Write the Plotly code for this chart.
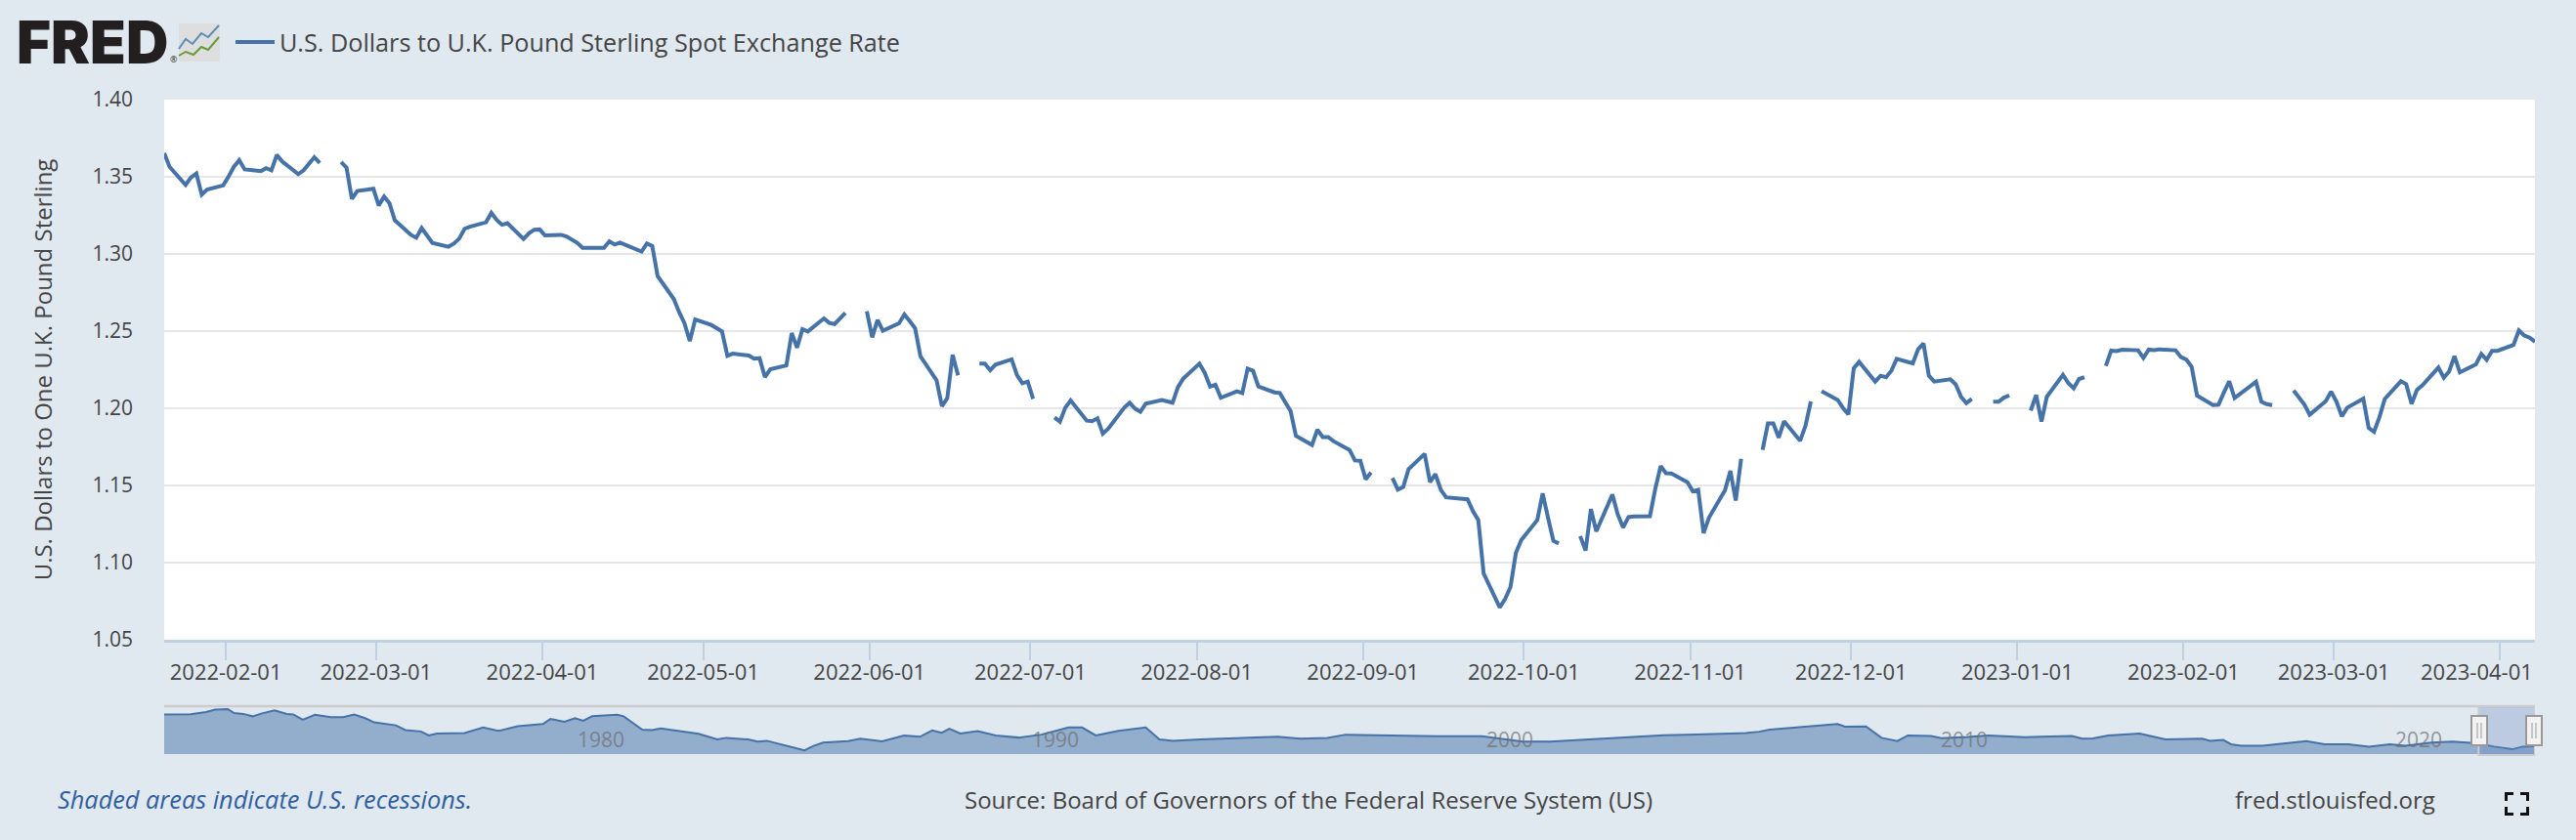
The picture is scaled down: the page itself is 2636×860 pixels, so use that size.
import pandas as pd
import plotly.graph_objects as go

# daily spot rate, one list per month, business days only (None = Fed holiday)
rate_2022_01 = [1.3653, 1.3565, 1.3448, 1.3496, 1.3521, 1.3385, 1.3418, 1.3444]
rate_2022_02 = [1.3502, 1.3565, 1.3607, 1.3548, 1.3536, 1.3556, 1.3542, 1.3642, 1.3600, 1.3517,
                1.3542, 1.3584, 1.3627, 1.3590, None, 1.3596, 1.3559, 1.3356, 1.3408, 1.3423]
rate_2022_03 = [1.3314, 1.3372, 1.3329, 1.3218, 1.3124, 1.3105, 1.3168, 1.3120, 1.3072, 1.3047,
                1.3067, 1.3099, 1.3163, 1.3176, 1.3205, 1.3266, 1.3220, 1.3189, 1.3199, 1.3097,
                1.3134, 1.3157, 1.3159]
rate_2022_04 = [1.3120, 1.3124, 1.3114, 1.3091, 1.3072, 1.3040, 1.3040, 1.3040, 1.3082, 1.3061,
                1.3074, 1.3025, 1.3015, 1.3068, 1.3051, 1.2857, 1.2709, 1.2624, 1.2551, 1.2435,
                1.2576]
rate_2022_05 = [1.2540, 1.2519, 1.2498, 1.2340, 1.2354, 1.2342, 1.2321, 1.2325, 1.2202, 1.2253,
                1.2278, 1.2487, 1.2392, 1.2513, 1.2498, 1.2582, 1.2553, 1.2546, 1.2586, 1.2618,
                None, 1.2629]
rate_2022_06 = [1.2460, 1.2572, 1.2502, 1.2551, 1.2608, 1.2565, 1.2519, 1.2337, 1.2181, 1.2013,
                1.2065, 1.2346, 1.2213, None, 1.2289, 1.2289, 1.2247, 1.2283, 1.2317, 1.2215,
                1.2162, 1.2173]
rate_2022_07 = [1.2061, None, 1.1941, 1.1913, 1.2004, 1.2051, 1.1920, 1.1916, 1.1935, 1.1835,
                1.1867, 1.2004, 1.2036, 1.1998, 1.1977, 1.2030, 1.2053, 1.2046, 1.2036, 1.2137,
                1.2192]
rate_2022_08 = [1.2289, 1.2230, 1.2141, 1.2152, 1.2068, 1.2110, 1.2099, 1.2257, 1.2243, 1.2141,
                1.2103, 1.2099, 1.2040, 1.1983, 1.1821, 1.1762, 1.1861, 1.1814, 1.1814, 1.1787,
                1.1730, 1.1662, 1.1660]
rate_2022_09 = [1.1540, 1.1584, None, 1.1548, 1.1473, 1.1490, 1.1605, 1.1705, 1.1521, 1.1573,
                1.1473, 1.1423, 1.1410, 1.1410, 1.1333, 1.1276, 1.0929, 1.0710, 1.0764, 1.0842,
                1.1061, 1.1145]
rate_2022_10 = [1.1276, 1.1448, 1.1291, 1.1141, 1.1124, None, 1.1172, 1.1078, 1.1347, 1.1203,
                1.1441, 1.1312, 1.1228, 1.1295, 1.1299, 1.1301, 1.1479, 1.1625, 1.1579, 1.1577,
                1.1521]
rate_2022_11 = [1.1462, 1.1471, 1.1191, 1.1291, 1.1469, 1.1594, 1.1402, 1.1673, None, 1.1730,
                1.1902, 1.1902, 1.1810, 1.1916, 1.1789, 1.1887, 1.2044, None, 1.2111, 1.2054,
                1.2002, 1.1960]
rate_2022_12 = [1.2259, 1.2301, 1.2173, 1.2211, 1.2201, 1.2242, 1.2320, 1.2291, 1.2382, 1.2420,
                1.2211, 1.2173, 1.2188, 1.2155, 1.2075, 1.2033, 1.2061, None, 1.2042, 1.2042,
                1.2069, 1.2084]
rate_2023_01 = [None, 1.1985, 1.2086, 1.1914, 1.2075, 1.2217, 1.2163, 1.2130, 1.2190, 1.2201,
                None, 1.2274, 1.2374, 1.2370, 1.2380, 1.2376, 1.2326, 1.2380, 1.2376, 1.2382,
                1.2376, 1.2331]
rate_2023_02 = [1.2316, 1.2268, 1.2083, 1.2021, 1.2023, 1.2102, 1.2175, 1.2067, 1.2144, 1.2171,
                1.2042, 1.2027, 1.2021, None, 1.2116, 1.2073, 1.2025, 1.1958, 1.2046, 1.2108]
rate_2023_03 = [1.2042, 1.1948, 1.2004, 1.2062, 1.1873, 1.1848, 1.1942, 1.2060, 1.2175, 1.2156,
                1.2029, 1.2119, 1.2148, 1.2264, 1.2198, 1.2239, 1.2337, 1.2233, 1.2285, 1.2352,
                1.2314, 1.2372, 1.2372]
rate_2023_04 = [1.2410, 1.2505, 1.2472, 1.2458, 1.2431]

rates = (rate_2022_01 + rate_2022_02 + rate_2022_03 + rate_2022_04 + rate_2022_05 + rate_2022_06
         + rate_2022_07 + rate_2022_08 + rate_2022_09 + rate_2022_10 + rate_2022_11 + rate_2022_12
         + rate_2023_01 + rate_2023_02 + rate_2023_03 + rate_2023_04)
# FRED plots the observations half a day right of the tick marks
dates = pd.bdate_range("2022-01-20", "2023-04-07") + pd.Timedelta(hours=12)

month_ticks = ["2022-02-01", "2022-03-01", "2022-04-01", "2022-05-01", "2022-06-01", "2022-07-01",
               "2022-08-01", "2022-09-01", "2022-10-01", "2022-11-01", "2022-12-01", "2023-01-01",
               "2023-02-01", "2023-03-01", "2023-04-01"]

# full history for the navigator strip
nav_years = [1971.0, 1971.58, 1971.92, 1972.12, 1972.40, 1972.54, 1972.74, 1972.95, 1973.15, 1973.43,
             1973.70, 1973.84, 1974.05, 1974.32, 1974.66, 1974.94, 1975.18, 1975.42, 1975.62, 1976.10,
             1976.31, 1976.65, 1976.82, 1977.0, 1977.61, 1978.02, 1978.37, 1978.78, 1979.33, 1979.50,
             1979.81, 1980.04, 1980.22, 1980.42, 1980.97, 1981.11, 1981.52, 1981.73, 1981.93, 1982.34,
             1982.76, 1983.17, 1983.37, 1983.85, 1984.06, 1984.26, 1985.09, 1985.29, 1985.50, 1986.05,
             1986.32, 1986.80, 1987.28, 1987.63, 1987.90, 1988.11, 1988.28, 1988.52, 1988.90, 1989.3,
             1989.8, 1990.3, 1990.9, 1991.2, 1991.5, 1992.0, 1992.6, 1992.9, 1993.2, 1993.8,
             1994.5, 1995.0, 1995.5, 1996.0, 1996.6, 1997.0, 1998.0, 1999.0, 2000.0, 2000.9,
             2001.5, 2002.5, 2003.0, 2004.0, 2004.5, 2005.0, 2005.8, 2006.10, 2006.33, 2006.79,
             2007.25, 2007.82, 2007.99, 2008.45, 2008.79, 2009.14, 2009.37, 2009.88, 2010.11, 2010.69,
             2011.15, 2011.60, 2011.95, 2012.29, 2012.98, 2013.21, 2013.44, 2013.78, 2014.47, 2015.04,
             2015.27, 2015.85, 2016.02, 2016.31, 2016.48, 2016.71, 2017.17, 2017.91, 2018.14, 2018.54,
             2019.06, 2019.52, 2019.98, 2020.32, 2020.89, 2021.35, 2021.92, 2022.27, 2022.67, 2022.90,
             2023.17]
nav_rates = [2.44, 2.45, 2.53, 2.62, 2.64, 2.49, 2.46, 2.37, 2.48, 2.59,
             2.46, 2.44, 2.24, 2.43, 2.34, 2.34, 2.44, 2.30, 2.14, 2.03,
             1.85, 1.80, 1.65, 1.72, 1.74, 1.95, 1.82, 2.00, 2.08, 2.27,
             2.16, 2.30, 2.20, 2.37, 2.43, 2.37, 1.87, 1.85, 1.91, 1.80,
             1.71, 1.50, 1.56, 1.50, 1.42, 1.45, 1.09, 1.26, 1.38, 1.44,
             1.53, 1.43, 1.65, 1.60, 1.84, 1.75, 1.90, 1.72, 1.81, 1.65,
             1.57, 1.68, 1.95, 1.95, 1.65, 1.82, 1.95, 1.50, 1.45, 1.50,
             1.55, 1.58, 1.60, 1.53, 1.56, 1.68, 1.65, 1.62, 1.62, 1.42,
             1.42, 1.52, 1.58, 1.66, 1.68, 1.70, 1.74, 1.79, 1.87, 1.93,
             1.99, 2.08, 1.98, 1.99, 1.56, 1.44, 1.65, 1.63, 1.55, 1.59,
             1.65, 1.60, 1.58, 1.60, 1.63, 1.53, 1.54, 1.65, 1.72, 1.50,
             1.51, 1.53, 1.45, 1.48, 1.32, 1.26, 1.26, 1.38, 1.44, 1.32,
             1.32, 1.23, 1.32, 1.26, 1.38, 1.42, 1.35, 1.23, 1.13, 1.23,
             1.25]
nav_decades = [1980, 1990, 2000, 2010, 2020]
nav_window = [2021.93, 2023.17]

BG = "#e1e9f0"
LINE = "#4572A7"
TEXT = "#444444"
FONT = "Open Sans"
W, H = 2636, 860
L, R, T, B = 168, 42, 102, 88
PW, PH = W - L - R, H - T - B


def xp(px):
    return (px - L) / PW


def yp(py):
    return (H - B - py) / PH


def poly(points):
    return "M " + " L ".join(f"{xp(x)} {yp(y)}" for x, y in points)


def text(x, y, s, size=24, color=TEXT, anchor="left", **kw):
    return dict(x=xp(x), y=yp(y), xref="paper", yref="paper", text=s, showarrow=False, xanchor=anchor,
                yanchor="middle", font=dict(family=FONT, size=size, color=color), **kw)


fig = go.Figure()

fig.add_trace(go.Scatter(x=dates, y=rates, mode="lines", name="U.S. Dollars to U.K. Pound Sterling Spot Exchange Rate",
                         line=dict(color=LINE, width=4), connectgaps=False))
fig.add_trace(go.Scatter(x=nav_years, y=nav_rates, mode="lines", xaxis="x2", yaxis="y2", showlegend=False,
                         line=dict(color=LINE, width=2), fill="tozeroy", fillcolor="rgba(69,114,167,0.5)"))

shapes = [
    # white plot panel
    dict(type="rect", xref="paper", yref="paper", x0=0, x1=1, y0=yp(655), y1=1, layer="below",
         fillcolor="white", line_width=0),
    # navigator top edge
    dict(type="line", xref="paper", yref="paper", x0=0, x1=1, y0=yp(723), y1=yp(723),
         line=dict(color="#cccccc", width=2.5)),
    # navigator selection
    dict(type="rect", xref="x2", yref="paper", x0=nav_window[0], x1=nav_window[1], y0=yp(773), y1=yp(723),
         fillcolor="rgba(102,133,194,0.3)", line=dict(color="#cccccc", width=2)),
    # logo icon
    dict(type="rect", xref="paper", yref="paper", x0=xp(183), x1=xp(225), y0=yp(63), y1=yp(24),
         fillcolor="#dedede", line_width=0),
    dict(type="path", xref="paper", yref="paper", line=dict(color="#5b8db5", width=2),
         path=poly([(183, 50), (190, 40), (197, 45), (206, 34), (213, 38), (224, 26)])),
    dict(type="path", xref="paper", yref="paper", line=dict(color="#6a9a3a", width=2),
         path=poly([(183, 57), (190, 53), (198, 56), (206, 48), (213, 51), (224, 38)])),
]

# navigator handles, on paper so they can hang past the plot edge
for hx in (2537, 2593):
    shapes.append(dict(type="rect", xref="paper", yref="paper", x0=xp(hx - 8), x1=xp(hx + 8),
                       y0=yp(763), y1=yp(733), fillcolor="#f2f2f2", line=dict(color="#999999", width=2)))
    for dx in (-2, 2):
        shapes.append(dict(type="line", xref="paper", yref="paper", x0=xp(hx + dx), x1=xp(hx + dx),
                           y0=yp(756), y1=yp(740), line=dict(color="#999999", width=1)))

# fullscreen icon corners
for cx, cy, sx, sy in [(2563, 811, 1, 1), (2588, 811, -1, 1), (2563, 835, 1, -1), (2588, 835, -1, -1)]:
    shapes.append(dict(type="path", xref="paper", yref="paper", fillcolor="#111111", line_width=0,
                       path=poly([(cx, cy), (cx + 9 * sx, cy), (cx + 9 * sx, cy + 3 * sy), (cx + 3 * sx, cy + 3 * sy),
                                  (cx + 3 * sx, cy + 9 * sy), (cx, cy + 9 * sy)]) + " Z"))

annotations = [
    dict(x=xp(15), y=yp(43), xref="paper", yref="paper", text="FRED", showarrow=False, xanchor="left",
         yanchor="middle", font=dict(family="Inter", size=60, color="#231f20", weight=900)),
    text(172, 61, "®", size=9, color="#231f20"),
    text(57, 818, "<i>Shaded areas indicate U.S. recessions.</i>", size=25.3, color="#2f5f9e"),
    text(1339, 818, "Source: Board of Governors of the Federal Reserve System (US)", anchor="center"),
    text(2285, 818, "fred.stlouisfed.org"),
    # last month label is pushed left to stay inside the plot
    dict(x=month_ticks[-1], y=yp(687), xref="x", yref="paper", text=month_ticks[-1], showarrow=False, xshift=-24,
         yanchor="middle", font=dict(family=FONT, size=22, color=TEXT)),
]
for yr in nav_decades:
    annotations.append(dict(x=yr, y=yp(757), xref="x2", yref="paper", text=str(yr), showarrow=False, xanchor="left",
                            xshift=2, yanchor="middle", font=dict(family=FONT, size=21, color="rgba(110,110,110,0.7)")))

fig.update_layout(
    width=W, height=H,
    margin=dict(l=L, r=R, t=T, b=B, pad=0),
    paper_bgcolor=BG,
    plot_bgcolor="rgba(0,0,0,0)",
    font=dict(family=FONT, size=21, color=TEXT),
    showlegend=True,
    legend=dict(x=xp(236), y=yp(43), xanchor="left", yanchor="middle", bgcolor="rgba(0,0,0,0)",
                font=dict(family=FONT, size=25.2, color=TEXT), itemwidth=40),
    xaxis=dict(domain=[0, 1], anchor="y", type="date", range=[dates[0], dates[-1]], tickvals=month_ticks,
               ticktext=month_ticks[:-1] + [""], showgrid=False, zeroline=False, showline=True,
               linecolor="#c0d0e0", linewidth=3, ticks="outside", ticklen=18, tickwidth=2, tickcolor="#c0d0e0",
               ticklabelstandoff=-6, tickfont=dict(size=22)),
    yaxis=dict(domain=[yp(655), 1], anchor="x", range=[1.05, 1.40], dtick=0.05, tickformat=".2f", showgrid=True,
               gridcolor="#e6e6e6", gridwidth=2, zeroline=False, ticklabelstandoff=31, tickfont=dict(size=21),
               title=dict(text="U.S. Dollars to One U.K. Pound Sterling", standoff=34, font=dict(size=24))),
    xaxis2=dict(domain=[0, 1], anchor="y2", range=[1971.0, 2023.17], tickvals=[1970] + nav_decades,
                showticklabels=False, showgrid=True, gridcolor="#e6e6e6", gridwidth=1, zeroline=False),
    yaxis2=dict(domain=[0, yp(723)], anchor="x2", range=[0.95, 2.75], showticklabels=False, showgrid=False,
                zeroline=False),
    shapes=shapes,
    annotations=annotations,
)

fig.write_html("out.html", post_script="document.body.style.margin='0';", config={"displayModeBar": False})
